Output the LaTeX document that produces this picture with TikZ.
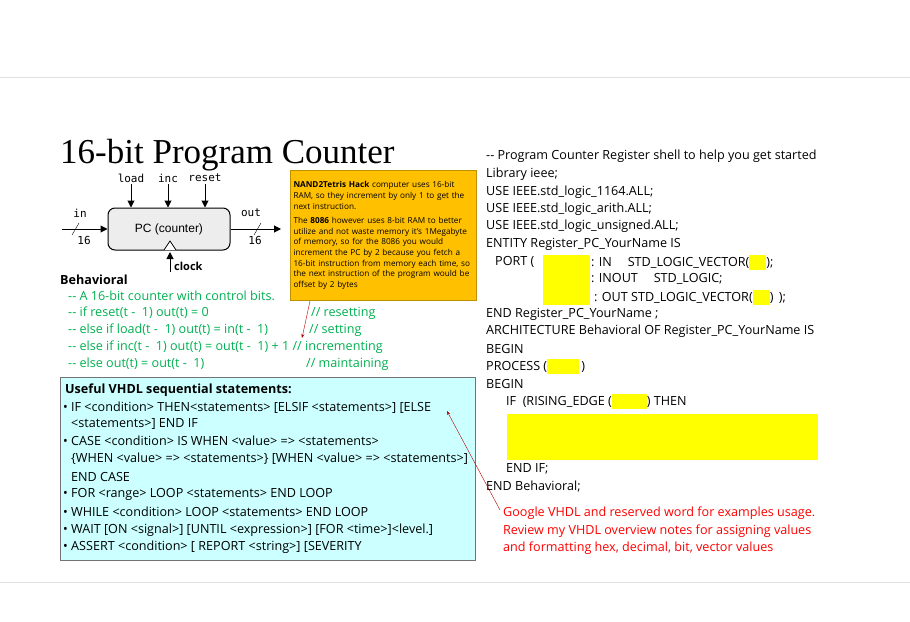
\documentclass[tikz,border=0pt]{standalone}
\usepackage{fontspec}
\setmainfont{Open Sans}
\newfontfamily\titlefont{Liberation Serif}
\newfontfamily\pcfont{Liberation Sans}
\newfontfamily\pinfont{DejaVu Sans Mono}
\usetikzlibrary{arrows.meta,positioning}
\definecolor{codegreen}{RGB}{0,176,80}
\definecolor{noteorange}{RGB}{255,192,0}
\definecolor{noteedge}{RGB}{191,144,0}
\definecolor{hiyellow}{RGB}{255,255,0}
\definecolor{boxcyan}{RGB}{204,255,255}
\newcommand\hlbox[1]{{\fboxsep=0pt\colorbox{hiyellow}{\rule[-3pt]{0pt}{15pt}\hspace{#1}}}}
\newcommand\nohyph{\hyphenpenalty=10000\relax}
\tikzset{
  code/.style={anchor=west,inner sep=0pt,font=\fontsize{12.6}{14}\selectfont},
  greenline/.style={code,text=codegreen},
  pin/.style={font=\pinfont\fontsize{11}{12}\selectfont,inner sep=1pt},
  wire/.style={-{Triangle[length=7pt,width=7pt]},line width=1pt},
  hilite/.style={fill=hiyellow,draw=none},
}
\begin{document}
\begin{tikzpicture}[x=1pt,y=-1pt]
\useasboundingbox (0,0) rectangle (910,621);
\draw[black!12] (0,77) -- (910,77);
\draw[black!12] (0,582) -- (910,582);

% title
\node[anchor=base west,inner sep=0pt,font=\titlefont\fontsize{35}{38}\selectfont] (title) at (60,163) {16-bit Program Counter};

% PC block
\node[draw,rounded corners=7pt,fill=black!7,line width=1pt,minimum width=122pt,minimum height=42pt,font=\pcfont\fontsize{12}{14}\selectfont] (pc) at (169,229) {PC (counter)};
\node[pin] (load) at (131,178) {load};
\node[pin] (inc) at (168,178) {inc};
\node[pin] (reset) at (205,178) {reset};
\foreach \s in {load,inc,reset}
  \draw[wire] (\s.south) ++(0,1) coordinate (\s top) -- (\s top |- pc.north);
\node[pin] (inlbl) at (80,213) {in};
\node[pin] (inw) at (84,240) {16};
\coordinate (instart) at (62,229);
\draw[wire] (instart) -- (pc.west |- instart);
\draw (72,235) -- (79,223);
\node[pin] (outlbl) at (251,213) {out};
\node[pin] (outw) at (255,240) {16};
\coordinate (outend) at (281,229);
\draw[wire] (pc.east |- outend) -- (outend);
\draw (254,235) -- (261,223);
\draw[line width=0.8pt,fill=white] (164,250) -- (170,241) -- (176,250);
\coordinate (clkstart) at (170,272);
\draw[wire] (clkstart) -- (170,252);
\node[anchor=west,inner sep=0pt,font=\bfseries\fontsize{11}{13}\selectfont] (clock) at (174,266) {clock};

% behavioral description
\node[code,font=\bfseries\fontsize{12.6}{14}\selectfont] (beh) at (60,280) {Behavioral};
\node[greenline] (b1) at (68,296) {{-}{-} A 16-bit counter with control bits.};
\node[greenline] (b2) at (68,313) {{-}{-} if reset(t - \ 1) out(t) = 0};
\node[greenline] (b3) at (68,330) {{-}{-} else if load(t - \ 1) out(t) = in(t - \ 1)};
\node[greenline] (b4) at (68,347) {{-}{-} else if inc(t - \ 1) out(t) = out(t - \ 1) + 1 // incrementing};
\node[greenline] (b5) at (68,364) {{-}{-} else out(t) = out(t - \ 1)};
\node[greenline] (c2) at (311,313) {// resetting};
\node[greenline] (c3) at (309,330) {// setting};
\node[greenline] (c5) at (306,364) {// maintaining};

% orange note
\node[draw=noteedge,fill=noteorange,line width=1pt,anchor=north west,text width=180pt,minimum height=130pt,inner sep=3pt,align=left,font=\nohyph\fontsize{8.2}{10.6}\selectfont] (note) at (290,170)
{\textbf{NAND2Tetris Hack} computer uses 16-bit RAM, so they increment by only 1 to get the next instruction.\\[4pt]
The \textbf{8086} however uses 8-bit RAM to better utilize and not waste memory it's 1Megabyte of memory, so for the 8086 you would increment the PC by 2 because you fetch a 16-bit instruction from memory each time, so the next instruction of the program would be offset by 2 bytes};
\coordinate (plusone) at (302,338);
\draw[-{Stealth[length=4pt]},red!70!black] (note.south west) ++(20,0) -- (plusone);

% cyan statements box
\node[draw=black!55,fill=boxcyan,line width=1pt,anchor=north west,minimum width=415pt,minimum height=183pt,inner sep=0pt] (stmts) at (60,377) {};
\node[code,font=\bfseries\fontsize{12.6}{14}\selectfont] (s0) at (65,390) {Useful VHDL sequential statements:};
\node[code] (s1) at (63,408) {• IF <condition> THEN<statements> [ELSIF <statements>] [ELSE};
\node[code] (s2) at (71,424) {<statements>] END IF};
\node[code] (s3) at (63,441) {• CASE <condition> IS WHEN <value> => <statements>};
\node[code] (s4) at (71,459) {\{WHEN <value> => <statements>\} [WHEN <value> => <statements>]};
\node[code] (s5) at (71,477) {END CASE};
\node[code] (s6) at (63,494) {• FOR <range> LOOP <statements> END LOOP};
\node[code] (s7) at (63,512) {• WHILE <condition> LOOP <statements> END LOOP};
\node[code] (s8) at (63,530) {• WAIT [ON <signal>] [UNTIL <expression>] [FOR <time>]<level.]};
\node[code] (s9) at (63,547) {• ASSERT <condition> [ REPORT <string>] [SEVERITY};

% highlights
\fill[hilite] (543,255) rectangle (590,305);
\fill[hilite] (507,414) rectangle (818,460);

% right code
\node[code] (r1) at (486,156) {{-}{-} Program Counter Register shell to help you get started};
\node[code] (r2) at (486,174) {Library ieee;};
\node[code] (r3) at (486,192) {USE IEEE.std\_logic\_1164.ALL;};
\node[code] (r4) at (486,209) {USE IEEE.std\_logic\_arith.ALL;};
\node[code] (r5) at (486,226) {USE IEEE.std\_logic\_unsigned.ALL;};
\node[code] (r6) at (486,244) {ENTITY Register\_PC\_YourName IS};
\node[code] (r7) at (495,262) {PORT (};
\node[code] (r7b) at (591,262) {: IN \quad STD\_LOGIC\_VECTOR(\hlbox{17pt});};
\node[code] (r8) at (591,279) {: INOUT \quad STD\_LOGIC;};
\node[code] (r9) at (594,297) {: OUT STD\_LOGIC\_VECTOR(\hlbox{17pt}) \,);};
\node[code] (r10) at (486,314) {END Register\_PC\_YourName ;};
\node[code] (r11) at (486,331) {ARCHITECTURE Behavioral OF Register\_PC\_YourName IS};
\node[code] (r12) at (486,349) {BEGIN};
\node[code] (r13) at (486,366) {PROCESS (\hlbox{32pt}\,)};
\node[code] (r14) at (486,384) {BEGIN};
\node[code] (r15) at (506,401) {IF \ (RISING\_EDGE (\hlbox{35pt}) THEN};
\node[code] (r16) at (506,469) {END IF;};
\node[code] (r17) at (486,487) {END Behavioral;};

% red remark
\node[code,text=red,anchor=north west,align=left,font=\fontsize{12.6}{17.3}\selectfont] (remark) at (503,507)
{Google VHDL and reserved word for examples usage.\\Review my VHDL overview notes for assigning values\\and formatting hex, decimal, bit, vector values};
\coordinate (elsept) at (447,411);
\draw[-{Stealth[length=4pt]},red!70!black] (500,510) -- (elsept);
\end{tikzpicture}
\end{document}
